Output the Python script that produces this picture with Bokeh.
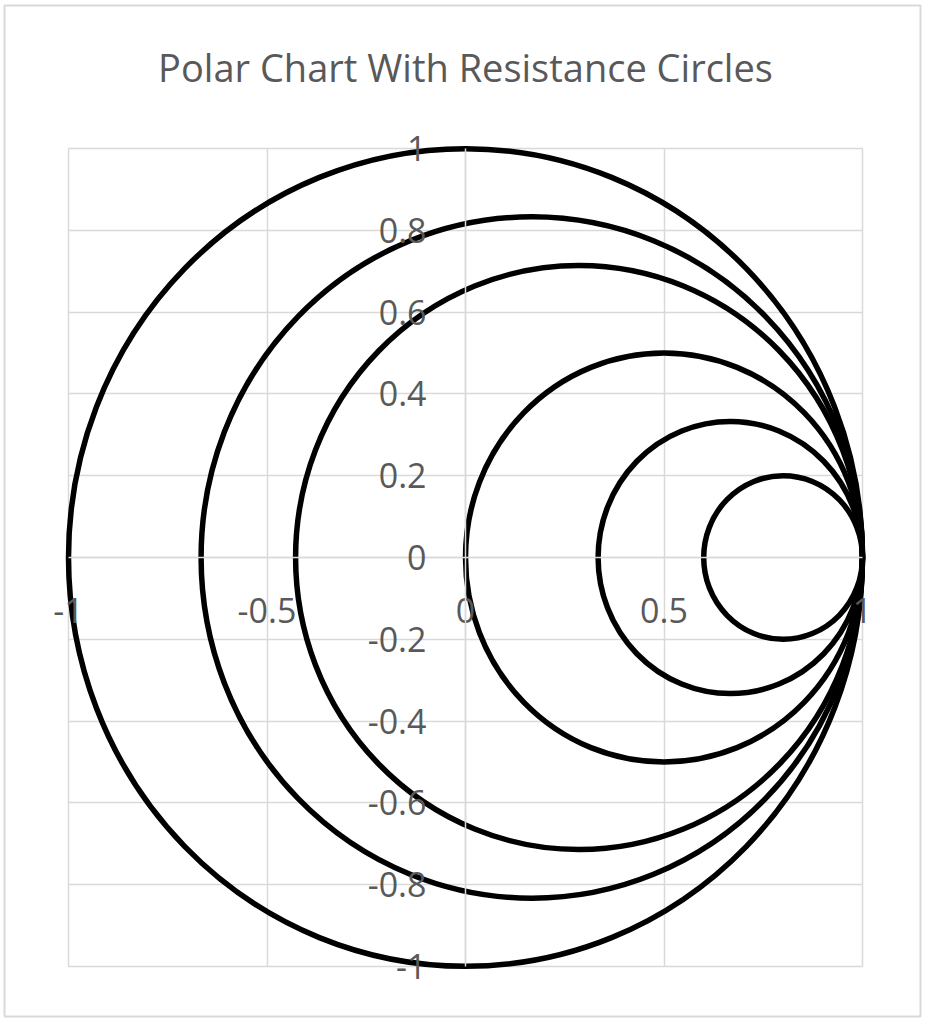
from bokeh.plotting import figure
from bokeh.models import Range1d, LinearAxis, FixedTicker, Grid, Label
from bokeh.embed import file_html
from bokeh.resources import INLINE

# Resistance circles (Smith chart)
circle_centers = [0.0, 0.167, 0.286, 0.5, 0.667, 0.8]
circle_radii = [1.0, 0.833, 0.714, 0.5, 0.333, 0.2]

x_ticks = [-1, -0.5, 0, 0.5, 1]
y_ticks = [-1, -0.8, -0.6, -0.4, -0.2, 0, 0.2, 0.4, 0.6, 0.8, 1]
x_labels = {-1: "-1", -0.5: "-0.5", 0: "0", 0.5: "0.5", 1: "1"}
y_labels = {-1: "-1", -0.8: "-0.8", -0.6: "-0.6", -0.4: "-0.4", -0.2: "-0.2", 0: "0",
            0.2: "0.2", 0.4: "0.4", 0.6: "0.6", 0.8: "0.8", 1: "1"}
chart_title = "Polar Chart With Resistance Circles"

FONT = "Open Sans"
GREY = "#d9d9d9"
TEXT = "#595959"

# The frame covers the whole chart area; its outline is the chart border.
# The [-1, 1] plot box sits inside it (px per unit: 397 in x, 409 in y).
XS, YS = 397.0, 409.0
x_start, x_end = -1 - 64 / XS, 1 + 58 / XS
y_start, y_end = -1 - 50 / YS, 1 + 143 / YS

p = figure(width=928, height=1024, output_backend="svg", toolbar_location=None,
           x_range=Range1d(x_start, x_end), y_range=Range1d(y_start, y_end),
           x_axis_location=None, y_axis_location=None,
           min_border_left=4, min_border_right=8, min_border_top=5, min_border_bottom=8)
p.xgrid.visible = False
p.ygrid.visible = False
p.outline_line_color = GREY
p.outline_line_width = 2
p.background_fill_color = "white"
p.border_fill_color = "white"

xt = FixedTicker(ticks=x_ticks)
yt = FixedTicker(ticks=y_ticks)
p.add_layout(Grid(dimension=0, ticker=xt, bounds=(-1, 1), cross_bounds=(-1, 1),
                  grid_line_color=GREY, grid_line_width=1.5))
p.add_layout(Grid(dimension=1, ticker=yt, bounds=(-1, 1), cross_bounds=(-1, 1),
                  grid_line_color=GREY, grid_line_width=1.5))

xa = LinearAxis(fixed_location=0, ticker=xt, major_label_overrides=x_labels, bounds=(-1, 1))
ya = LinearAxis(fixed_location=0, ticker=yt, major_label_overrides=y_labels, bounds=(-1, 1))
for ax in (xa, ya):
    ax.axis_line_color = GREY
    ax.axis_line_width = 1.5
    ax.major_tick_line_color = None
    ax.minor_tick_line_color = None
    ax.major_tick_out = 0
    ax.major_tick_in = 0
    ax.major_label_text_font = FONT
    ax.major_label_text_font_size = "34px"
    ax.major_label_text_color = TEXT
xa.major_label_standoff = 40
ya.major_label_standoff = 39
p.add_layout(xa, "below")
p.add_layout(ya, "left")

p.ellipse(x=circle_centers, y=[0] * len(circle_centers),
          width=[2 * r for r in circle_radii], height=[2 * r for r in circle_radii],
          fill_color=None, line_color="black", line_width=5.5)

p.add_layout(Label(x=0, y=1 + (148 - 66) / YS, text=chart_title,
                   text_align="center", text_baseline="middle",
                   text_font=FONT, text_font_size="38px", text_color=TEXT))

open("out.html", "w").write(file_html(p, INLINE))
